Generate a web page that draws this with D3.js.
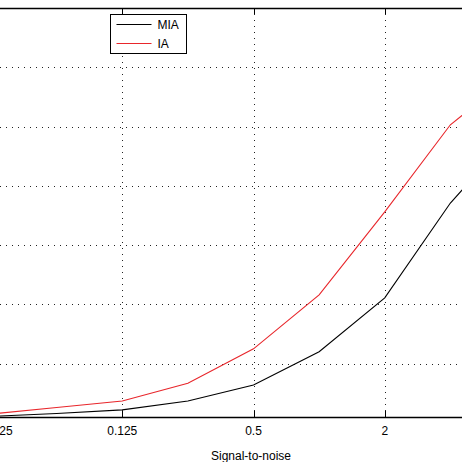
<!DOCTYPE html>
<html>
<head>
<meta charset="utf-8">
<script src="https://cdn.jsdelivr.net/npm/d3@7"></script>
<style>
body { margin: 0; background: #fff; }
svg { display: block; }
text { font-family: "Liberation Sans", Arial, sans-serif; font-size: 12px; fill: #000; }
</style>
</head>
<body>
<div id="chart"></div>
<script>
// signal-to-noise values (log2 axis)
var snr = [0.03125, 0.0625, 0.125, 0.25, 0.5, 1, 2, 4, 8];
var mia = [0.11, 0.16, 0.22, 0.37, 0.64, 1.20, 2.11, 3.71, 4.94];
var ia  = [0.15, 0.26, 0.37, 0.67, 1.25, 2.16, 3.56, 5.03, 5.92];
var xTicks = [0.03125, 0.125, 0.5, 2];
var xTickLabels = ["0.03125", "0.125", "0.5", "2"];
var yTicks = [1, 2, 3, 4, 5, 6, 7];
var seriesNames = ["MIA", "IA"];
var seriesColors = ["#000", "#e8262b"];

var w = 462, h = 462;
var top_y = 8, bottom_y = 417;

var svg = d3.select("#chart").append("svg")
	.attr("width", w)
	.attr("height", h);

var x = d3.scaleLog().base(2)
	.domain([0.03125, 8])
	.range([-9, 516]);

var y = d3.scaleLinear()
	.domain([0.1, 7])
	.range([bottom_y, top_y]);

svg.append("clipPath").attr("id", "clip")
	.append("rect")
	.attr("x", -40).attr("y", top_y)
	.attr("width", 600).attr("height", bottom_y - top_y);

// grid
var grid = svg.append("g")
	.attr("stroke", "#222")
	.attr("stroke-width", 1)
	.attr("stroke-dasharray", "1,5");

grid.selectAll(".vg")
	.data(xTicks)
	.enter().append("line")
	.attr("x1", function(d) { return Math.round(x(d)) + 0.5; })
	.attr("x2", function(d) { return Math.round(x(d)) + 0.5; })
	.attr("y1", top_y)
	.attr("y2", bottom_y);

grid.selectAll(".hg")
	.data(yTicks.slice(0, -1))
	.enter().append("line")
	.attr("x1", 0)
	.attr("x2", w)
	.attr("y1", function(d) { return Math.round(y(d)) + 0.5; })
	.attr("y2", function(d) { return Math.round(y(d)) + 0.5; });

// curves
var line = d3.line()
	.x(function(d) { return x(d[0]); })
	.y(function(d) { return y(d[1]); });

var plot = svg.append("g").attr("clip-path", "url(#clip)");
[mia, ia].forEach(function(vals, i) {
	plot.append("path")
		.datum(snr.map(function(s, j) { return [s, vals[j]]; }))
		.attr("fill", "none")
		.attr("stroke", seriesColors[i])
		.attr("stroke-width", 1.1)
		.attr("d", line);
});

// box + ticks
svg.append("line")
	.attr("x1", 0).attr("x2", w)
	.attr("y1", top_y + 0.5).attr("y2", top_y + 0.5)
	.attr("stroke", "#000").attr("stroke-width", 1.3);
svg.append("line")
	.attr("x1", 0).attr("x2", w)
	.attr("y1", bottom_y + 0.5).attr("y2", bottom_y + 0.5)
	.attr("stroke", "#000").attr("stroke-width", 1.3);

xTicks.forEach(function(d) {
	var px = Math.round(x(d)) + 0.5;
	svg.append("line")
		.attr("x1", px).attr("x2", px)
		.attr("y1", bottom_y).attr("y2", bottom_y - 6)
		.attr("stroke", "#000");
	svg.append("line")
		.attr("x1", px).attr("x2", px)
		.attr("y1", top_y).attr("y2", top_y + 6)
		.attr("stroke", "#000");
});

svg.selectAll(".xl")
	.data(xTicks)
	.enter().append("text")
	.attr("x", function(d) { return x(d); })
	.attr("y", 435)
	.attr("text-anchor", "middle")
	.text(function(d, i) { return xTickLabels[i]; });

svg.append("text")
	.attr("x", 251)
	.attr("y", 460)
	.attr("text-anchor", "middle")
	.text("Signal-to-noise");

// legend
var legend = svg.append("g").attr("transform", "translate(110.5,14.5)");
legend.append("rect")
	.attr("width", 76).attr("height", 39)
	.attr("fill", "#fff")
	.attr("stroke", "#000");
seriesNames.forEach(function(name, i) {
	var ly = 10 + i * 19;
	legend.append("line")
		.attr("x1", 6).attr("x2", 41)
		.attr("y1", ly).attr("y2", ly)
		.attr("stroke", seriesColors[i]);
	legend.append("text")
		.attr("x", 47)
		.attr("y", ly + 4.5)
		.text(name);
});
</script>
</body>
</html>
